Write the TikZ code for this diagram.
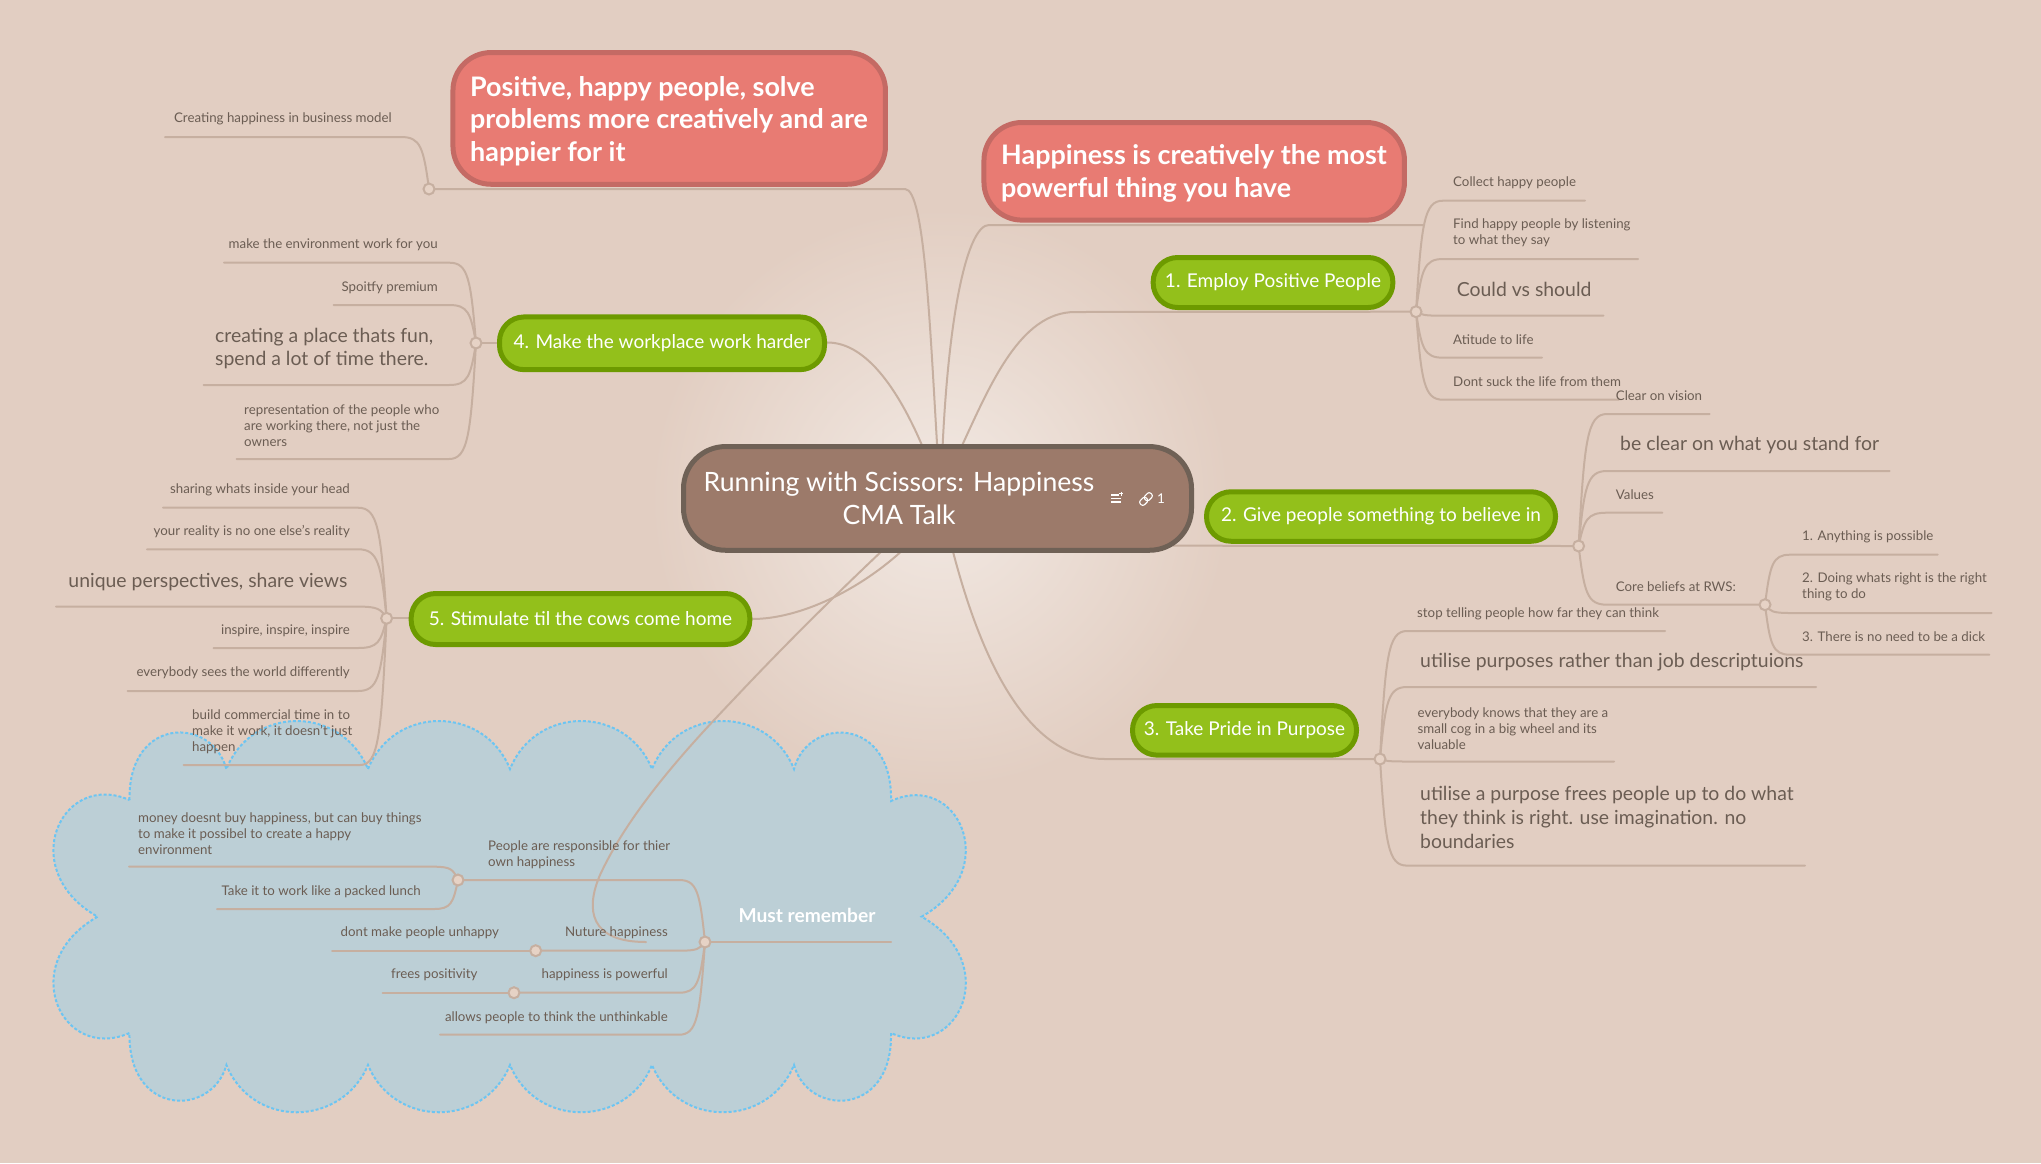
\documentclass[tikz,border=0pt]{standalone}
\usepackage{fontspec}
\setmainfont{Lato}
\usetikzlibrary{calc}
\definecolor{bgc}{HTML}{E2CEC2}
\definecolor{glow}{HTML}{F2E9E3}
\definecolor{linec}{HTML}{C6AFA0}
\definecolor{txtc}{HTML}{6B5D53}
\definecolor{cenfill}{HTML}{9C7A6A}
\definecolor{cenline}{HTML}{6F6156}
\definecolor{grfill}{HTML}{93C01B}
\definecolor{grline}{HTML}{6D9A00}
\definecolor{pkfill}{HTML}{E87B73}
\definecolor{pkline}{HTML}{C46A64}
\definecolor{cldfill}{HTML}{BCCFD6}
\definecolor{cldline}{HTML}{6CC5F2}
\definecolor{jfill}{HTML}{E6D2C5}
\newcommand{\fs}[1]{\fontsize{#1}{#1}\selectfont}
\tikzset{
  x=1pt,y=-1pt,
  branch/.style={draw=linec,line width=2pt,line cap=round},
  trunk/.style={draw=linec,line width=2pt,line cap=round},
  leaf/.style={text=txtc,inner sep=0pt,align=left,yshift=-0.8pt,font=\fontsize{13.3}{16}\selectfont},
  bigleaf/.style={text=txtc,inner sep=0pt,align=left,yshift=-1pt,font=\fontsize{19.4}{23.6}\selectfont},
  joint/.style={circle,draw=linec,fill=jfill,line width=2pt,minimum size=11pt,inner sep=0pt},
  central/.style={draw=cenline,fill=cenfill,line width=5pt,rounded corners=42pt,inner sep=0pt},
  green/.style={draw=grline,fill=grfill,line width=5pt,rounded corners=24.5pt,text=white,inner sep=0pt,font=\fontsize{19}{24}\selectfont},
  pink/.style={draw=pkline,fill=pkfill,line width=5pt,rounded corners=38pt,inner sep=0pt},
  pinktxt/.style={text=white,inner sep=0pt,align=left,yshift=-2.5pt,font=\fontsize{26.9}{32.4}\selectfont\bfseries},
  cloud shape/.style={fill=cldfill,draw=cldline,line width=2pt,dash pattern=on 3pt off 2pt},
}
% junction, name, bend x, y, end x
\newcommand{\kid}[5]{%
  \coordinate (#2a) at (#3,#4);
  \coordinate (#2b) at (#5,#4);
  \draw[branch] (#1) .. controls ($(#1)!.75!(#1|-#2a)!.2!(#2a)$) and ($(#2a)!.7!(#1|-#2a)$) .. (#2a) -- (#2b);
}
\begin{document}
\begin{tikzpicture}
\useasboundingbox (0,0) rectangle (2041,1163);
\fill[bgc] (0,0) rectangle (2041,1163);
\shade[inner color=glow,outer color=bgc] (940,498) circle (290);

% cloud
\path[cloud shape] (129.5,800)
  .. controls (128,716) and (212,716) .. (226.4,769)
  .. controls (252,705) and (341,705) .. (368,769)
  .. controls (394,705) and (484,705) .. (510,769)
  .. controls (536,705) and (626,705) .. (652,769)
  .. controls (678,705) and (768,705) .. (794,769)
  .. controls (808,716) and (893,716) .. (891,801)
  .. controls (958,770) and (1004,870) .. (921.6,916.7)
  .. controls (1004,963) and (958,1063) .. (891,1033)
  .. controls (893,1117) and (808,1117) .. (794,1065)
  .. controls (768,1128) and (678,1128) .. (652,1065)
  .. controls (626,1128) and (536,1128) .. (510,1065)
  .. controls (484,1128) and (394,1128) .. (368,1065)
  .. controls (341,1128) and (252,1128) .. (226.4,1065)
  .. controls (212,1117) and (128,1117) .. (129.5,1033)
  .. controls (61,1063) and (15.2,963) .. (97.6,916.7)
  .. controls (15.2,870) and (61,770) .. (129.5,800) -- cycle;

% junction positions
\coordinate (j1) at (1416,311.7);
\coordinate (j2) at (1578.6,546);
\coordinate (j3) at (1765,604.7);
\coordinate (j4) at (1380,759);
\coordinate (j5) at (476,343);
\coordinate (j6) at (429,189);
\coordinate (j7) at (386.6,618.3);
\coordinate (j8) at (705,942);
\coordinate (j9) at (458,880);
\coordinate (j10) at (535.7,950.7);
\coordinate (j11) at (514,992.7);

% topic nodes' free points
\coordinate (hubA) at (930,465);
\coordinate (hubB) at (938,460);
\coordinate (hubC) at (942,460);
\coordinate (hubD) at (960,450);
\coordinate (hubE) at (1173,545.7);
\coordinate (hubF) at (950,540);
\coordinate (hubG) at (905,548);
\coordinate (hubH) at (885,548);
\coordinate (p1a) at (905,189);
\coordinate (p2a) at (989,225);
\coordinate (p2b) at (1424,225);
\coordinate (g1a) at (1075,312);
\coordinate (g3a) at (1105,759);
\coordinate (g4r) at (827,342.5);
\coordinate (g5r) at (752,619);
\coordinate (g4l) at (497,343);
\coordinate (g5l) at (409,618.3);
\coordinate (m1) at (733,700);
\coordinate (m2) at (600,875);
\coordinate (m3) at (646,942);
\coordinate (mend) at (891,942);

% main branches
\draw[trunk] (g4r) .. controls (870,342) and (905,400) .. (hubA);
\draw[trunk] (j6) -- (p1a) .. controls (925,189) and (930,330) .. (hubB);
\draw[trunk] (p2b) -- (p2a) .. controls (968,225) and (948,310) .. (hubC);
\draw[trunk] (j1) -- (g1a) .. controls (1020,312) and (990,385) .. (hubD);
\draw[trunk] (hubE) -- (j2);
\draw[trunk] (j4) -- (g3a) .. controls (1020,759) and (975,640) .. (hubF);
\draw[trunk] (g5r) .. controls (800,619) and (860,590) .. (hubG);
\draw[trunk] (hubH) .. controls (830,600) and (780,650) .. (m1)
   .. controls (690,745) and (630,810) .. (m2)
   .. controls (585,910) and (590,942) .. (m3);

% Employ children
\kid{j1}{e1}{1443}{200.7}{1585}
\kid{j1}{e2}{1443}{259}{1638}
\kid{j1}{e3}{1443}{315.7}{1603.5}
\kid{j1}{e4}{1443}{357.7}{1542}
\kid{j1}{e5}{1443}{399.7}{1619}
\node[leaf,anchor=west] (te1) at (1453,182.3) {Collect happy people};
\node[leaf,anchor=west] (te2) at (1453,232.3) {Find happy people by listening\\to what they say};
\node[bigleaf,anchor=west] (te3) at (1456.6,288.3) {Could vs should};
\node[leaf,anchor=west] (te4) at (1453,339) {Atitude to life};
\node[leaf,anchor=west] (te5) at (1453,381.3) {Dont suck the life from them};

% Give children
\kid{j2}{b1}{1607}{414}{1709.5}
\kid{j2}{b2}{1607}{471}{1889.7}
\kid{j2}{b3}{1607}{512.7}{1662.4}
\kid{j2}{b4}{1607}{604.7}{1765}
\node[leaf,anchor=west] (tb1) at (1615.7,395.3) {Clear on vision};
\node[bigleaf,anchor=west] (tb2) at (1620,444.3) {be clear on what you stand for};
\node[leaf,anchor=west] (tb3) at (1615.7,494.3) {Values};
\node[leaf,anchor=west] (tb4) at (1615.7,586.3) {Core beliefs at RWS:};
\kid{j3}{c1}{1790}{554.7}{1937.7}
\kid{j3}{c2}{1790}{613}{1991.5}
\kid{j3}{c3}{1790}{654.7}{1989.4}
\node[leaf,anchor=west] (tc1) at (1802,536.3) {1. Anything is possible};
\node[leaf,anchor=west] (tc2) at (1802,586.3) {2. Doing whats right is the right\\thing to do};
\node[leaf,anchor=west] (tc3) at (1802,636.3) {3. There is no need to be a dick};

% Pride children
\kid{j4}{d1}{1407}{631}{1665}
\kid{j4}{d2}{1407}{687}{1816}
\kid{j4}{d3}{1407}{761.5}{1614}
\kid{j4}{d4}{1407}{865.6}{1805}
\node[leaf,anchor=west] (td1) at (1417,612.7) {stop telling people how far they can think};
\node[bigleaf,anchor=west] (td2) at (1420,661) {utilise purposes rather than job descriptuions};
\node[leaf,anchor=west] (td3) at (1417.5,727.6) {everybody knows that they are a\\small cog in a big wheel and its\\valuable};
\node[bigleaf,anchor=west] (td4) at (1420,816.5) {utilise a purpose frees people up to do what\\they think is right. use imagination. no\\boundaries};

% Workplace children
\draw[trunk] (j5) -- (g4l);
\kid{j5}{f1}{449.5}{262.7}{224}
\kid{j5}{f2}{449}{305}{333.7}
\kid{j5}{f3}{449}{385}{203.6}
\kid{j5}{f4}{449}{459}{236.7}
\node[leaf,anchor=east] (tf1) at (438,244) {make the environment work for you};
\node[leaf,anchor=east] (tf2) at (438,286.7) {Spoitfy premium};
\node[bigleaf,anchor=west] (tf3) at (215,347.7) {creating a place thats fun,\\spend a lot of time there.};
\node[leaf,anchor=west] (tf4) at (244,424.5) {representation of the people who\\are working there, not just the\\owners};

% Pink 1 child
\kid{j6}{h1}{401}{137}{165}
\node[leaf,anchor=east] (th1) at (392,118.5) {Creating happiness in business model};

% Stimulate children
\draw[trunk] (j7) -- (g5l);
\kid{j7}{s1}{358}{507.7}{163}
\kid{j7}{s2}{358}{549.3}{147}
\kid{j7}{s3}{358}{606.6}{56}
\kid{j7}{s4}{358}{648}{213.5}
\kid{j7}{s5}{358}{691}{127.6}
\kid{j7}{s6}{360}{765}{183.7}
\node[leaf,anchor=east] (ts1) at (350,489.5) {sharing whats inside your head};
\node[leaf,anchor=east] (ts2) at (350,531) {your reality is no one else's reality};
\node[bigleaf,anchor=east] (ts3) at (347.6,580.6) {unique perspectives, share views};
\node[leaf,anchor=east] (ts4) at (350,630) {inspire, inspire, inspire};
\node[leaf,anchor=east] (ts5) at (350,672.3) {everybody sees the world differently};
\node[leaf,anchor=west] (ts6) at (192,730.7) {build commercial time in to\\make it work, it doesn't just\\happen};

% Must remember children
\draw[branch] (j8) -- (mend);
\kid{j8}{m4}{679}{880}{458}
\kid{j8}{m5}{679}{950.7}{535.7}
\kid{j8}{m6}{679}{992.7}{514}
\kid{j8}{m7}{679}{1034.7}{440}
\kid{j9}{n1}{434}{866.7}{129}
\kid{j9}{n2}{434}{909}{217}
\coordinate (n3) at (332,950.7);
\coordinate (n4) at (382.6,992.7);
\draw[branch] (j10) -- (n3);
\draw[branch] (j11) -- (n4);
\node[leaf,anchor=west] (tm4) at (488,853.7) {People are responsible for thier\\own happiness};
\node[leaf,anchor=west] (tn1) at (138,832.7) {money doesnt buy happiness, but can buy things\\to make it possibel to create a happy\\environment};
\node[leaf,anchor=east] (tn2) at (421,890.7) {Take it to work like a packed lunch};
\node[leaf,anchor=east] (tm5) at (668,932) {Nuture happiness};
\node[leaf,anchor=west] (tn3) at (340.5,932) {dont make people unhappy};
\node[leaf,anchor=east] (tm6) at (668,974) {happiness is powerful};
\node[leaf,anchor=west] (tn4) at (391,974) {frees positivity};
\node[leaf,anchor=east] (tm7) at (668,1016.7) {allows people to think the unthinkable};
\node[text=white,inner sep=0pt,font=\fontsize{19.2}{22}\selectfont\bfseries] (must) at (807,915.7) {Must remember};

% junction discs on top
\foreach \j in {j1,j2,j3,j4,j5,j6,j7,j8,j9,j10,j11}
  \node[joint] (d\j) at (\j) {};

% main shapes
\node[central,minimum width=508,minimum height=103.7] (cenbox) at (937.5,498.4) {};
\node[inner sep=0pt,text=white,align=center,font=\fontsize{26.6}{32.7}\selectfont] (cen) at (899,498.5) {Running with Scissors: Happiness\\CMA Talk};
\node[green,minimum width=239.7,minimum height=50] (g1) at (1273,282.5) {1. Employ Positive People};
\node[green,minimum width=349,minimum height=49.5] (g2) at (1381,516.5) {2. Give people something to believe in};
\node[green,minimum width=224,minimum height=49.6] (g3) at (1244.5,730.3) {3. Take Pride in Purpose};
\node[green,minimum width=325,minimum height=52.7] (g4) at (662,343.3) {4. Make the workplace work harder};
\node[green,minimum width=338.7,minimum height=51] (g5) at (580.5,619) {5. Stimulate til the cows come home};
\node[pink,minimum width=432.5,minimum height=131.7] (p1box) at (669.2,118.4) {};
\node[pinktxt,anchor=west] (p1) at (470,118.7) {Positive, happy people, solve\\problems more creatively and are\\happier for it};
\node[pink,minimum width=420.5,minimum height=97.6] (p2box) at (1194.2,171.3) {};
\node[pinktxt,anchor=west] (p2) at (1001,171) {Happiness is creatively the most\\powerful thing you have};

% icons in central node
\draw[white,line width=1.3pt] (1111,495) -- (1119,495) (1111,498.5) -- (1121,498.5) (1111,502) -- (1121,502);
\draw[white,line width=1pt] (1119,493.5) -- (1123,493.5) (1121,491.5) -- (1121,495.5);
\draw[white,line width=1.1pt,rounded corners=2.5pt,rotate around={45:(1146,499)}] (1138.5,496) rectangle (1147,502);
\draw[white,line width=1.1pt,rounded corners=2.5pt,rotate around={45:(1146,499)}] (1145,496) rectangle (1153.5,502);
\node[inner sep=0pt,text=white,font=\fs{13.5}] (lnk) at (1161,498.5) {1};
\end{tikzpicture}
\end{document}
